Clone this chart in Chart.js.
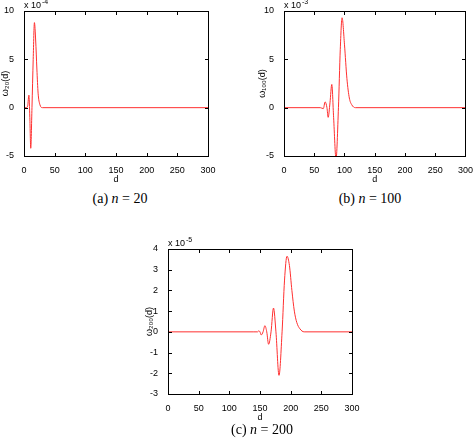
<!DOCTYPE html>
<html><head><meta charset="utf-8">
<script src="https://cdn.jsdelivr.net/npm/chart.js@4"></script>
<style>
body{margin:0;width:474px;height:447px;background:#fff;position:relative;overflow:hidden}
canvas{position:absolute}
.cap{position:absolute;font-family:"Liberation Serif","DejaVu Serif",serif;font-size:14px;color:#000;transform:translateX(-50%);white-space:nowrap}
</style></head><body>
<div style="position:absolute;left:0;top:0;width:237px;height:185px"><canvas id="a"></canvas></div>
<div style="position:absolute;left:237px;top:0;width:237px;height:185px"><canvas id="b"></canvas></div>
<div style="position:absolute;left:110px;top:220px;width:260px;height:203px"><canvas id="c"></canvas></div>
<div class="cap" style="left:120px;top:191px">(a) <i>n</i> = 20</div>
<div class="cap" style="left:370px;top:191px">(b) <i>n</i> = 100</div>
<div class="cap" style="left:262px;top:422px">(c) <i>n</i> = 200</div>
<script>
// values in units of the axis exponent
const dA = [0,4,6,8,9.5,11,13,15,17,19,21,23,26,30,300];
const wA = [0,0,0.2,1.3,-1,-4.2,0,5,8.8,7,4,1.5,0.3,0,0];
const dB = [0,60,65,68,71,73,76,79,82,86,90,93,96,100,104,108,112,118,300];
const wB = [0,0,-0.1,0.6,0,-1.0,0.5,2.4,-1,-5.3,0,6,9.3,6.5,3,1,0.3,0,0];
const dC = [0,140,146,148,150,152,155,158,161,164,168,172,176,181,186,190,194,198,202,206,210,215,222,300];
const wC = [0,0,0,0.05,0,-0.15,0,0.3,0,-0.6,0,1.15,0,-2.1,0,2.5,3.65,3.2,2.0,1.0,0.45,0.15,0,0];
const xTicks = [0,50,100,150,200,250,300];
const yTicksA = [-5,0,5,10], yTicksB = [-5,0,5,10], yTicksC = [-3,-2,-1,0,1,2,3,4];

const F = "'Liberation Sans', Arial, sans-serif";
const boxPlugin = {id:'mbox', afterDatasetsDraw(ch){
  const a=ch.chartArea, c=ch.ctx;
  const L=Math.round(a.left),R=Math.round(a.right),T=Math.round(a.top),B=Math.round(a.bottom);
  c.save(); c.fillStyle='#000';
  c.fillRect(L,T,R-L+1,1); c.fillRect(L,B,R-L+1,1); c.fillRect(L,T,1,B-T+1); c.fillRect(R,T,1,B-T+1);
  ch.scales.x.ticks.forEach(t=>{const p=Math.round(ch.scales.x.getPixelForValue(t.value));c.fillRect(p,B-3,1,3);c.fillRect(p,T+1,1,3);});
  ch.scales.y.ticks.forEach(t=>{const p=Math.round(ch.scales.y.getPixelForValue(t.value));c.fillRect(L+1,p,3,1);c.fillRect(R-3,p,3,1);});
  c.font='9px '+F; c.textBaseline='bottom';
  c.fillText('x 10',L,T-1);
  const w=c.measureText('x 10').width;
  c.font='7px '+F; c.fillText(ch.canvas.id==='a'?'-4':ch.canvas.id==='b'?'-3':'-5',L+w+1,T-5);
  c.restore();
}};
function make(id,xs,ys,yt,sub,pad,yw){
  new Chart(document.getElementById(id),{type:'scatter',
    data:{datasets:[{data:xs.map((x,i)=>({x,y:ys[i]})),showLine:true,borderColor:'#ff3030',borderWidth:1,pointRadius:0,cubicInterpolationMode:'monotone'}]},
    options:{responsive:true,maintainAspectRatio:false,animation:false,layout:{padding:pad},
      plugins:{legend:{display:false},tooltip:{enabled:false}},
      scales:{
        x:{type:'linear',min:0,max:300,afterBuildTicks(s){s.ticks=xTicks.map(v=>({value:v}));},
          afterFit(s){s.height=29;},
          grid:{display:false},border:{display:false},
          ticks:{color:'#000',font:{family:F,size:9},padding:1,maxRotation:0},
          title:{display:true,text:'d',color:'#000',font:{family:F,size:9},padding:0}},
        y:{min:yt[0],max:yt[yt.length-1],afterBuildTicks(s){s.ticks=yt.map(v=>({value:v}));},
          afterFit(s){s.width=yw;},
          grid:{display:false},border:{display:false},
          ticks:{color:'#000',font:{family:F,size:9},padding:2},
          title:{display:true,text:'ω'+sub+'(d)',color:'#000',font:{family:F,size:9},padding:0}}
      }},plugins:[boxPlugin]});
}
make('a',dA,wA,yTicksA,'₂₀',{left:0,top:11,right:29,bottom:0},24);
make('b',dB,wB,yTicksB,'₁₀₀',{left:20,top:11,right:7,bottom:0},27);
make('c',dC,wC,yTicksC,'₂₀₀',{left:34,top:29,right:18,bottom:0},24);
</script></body></html>
